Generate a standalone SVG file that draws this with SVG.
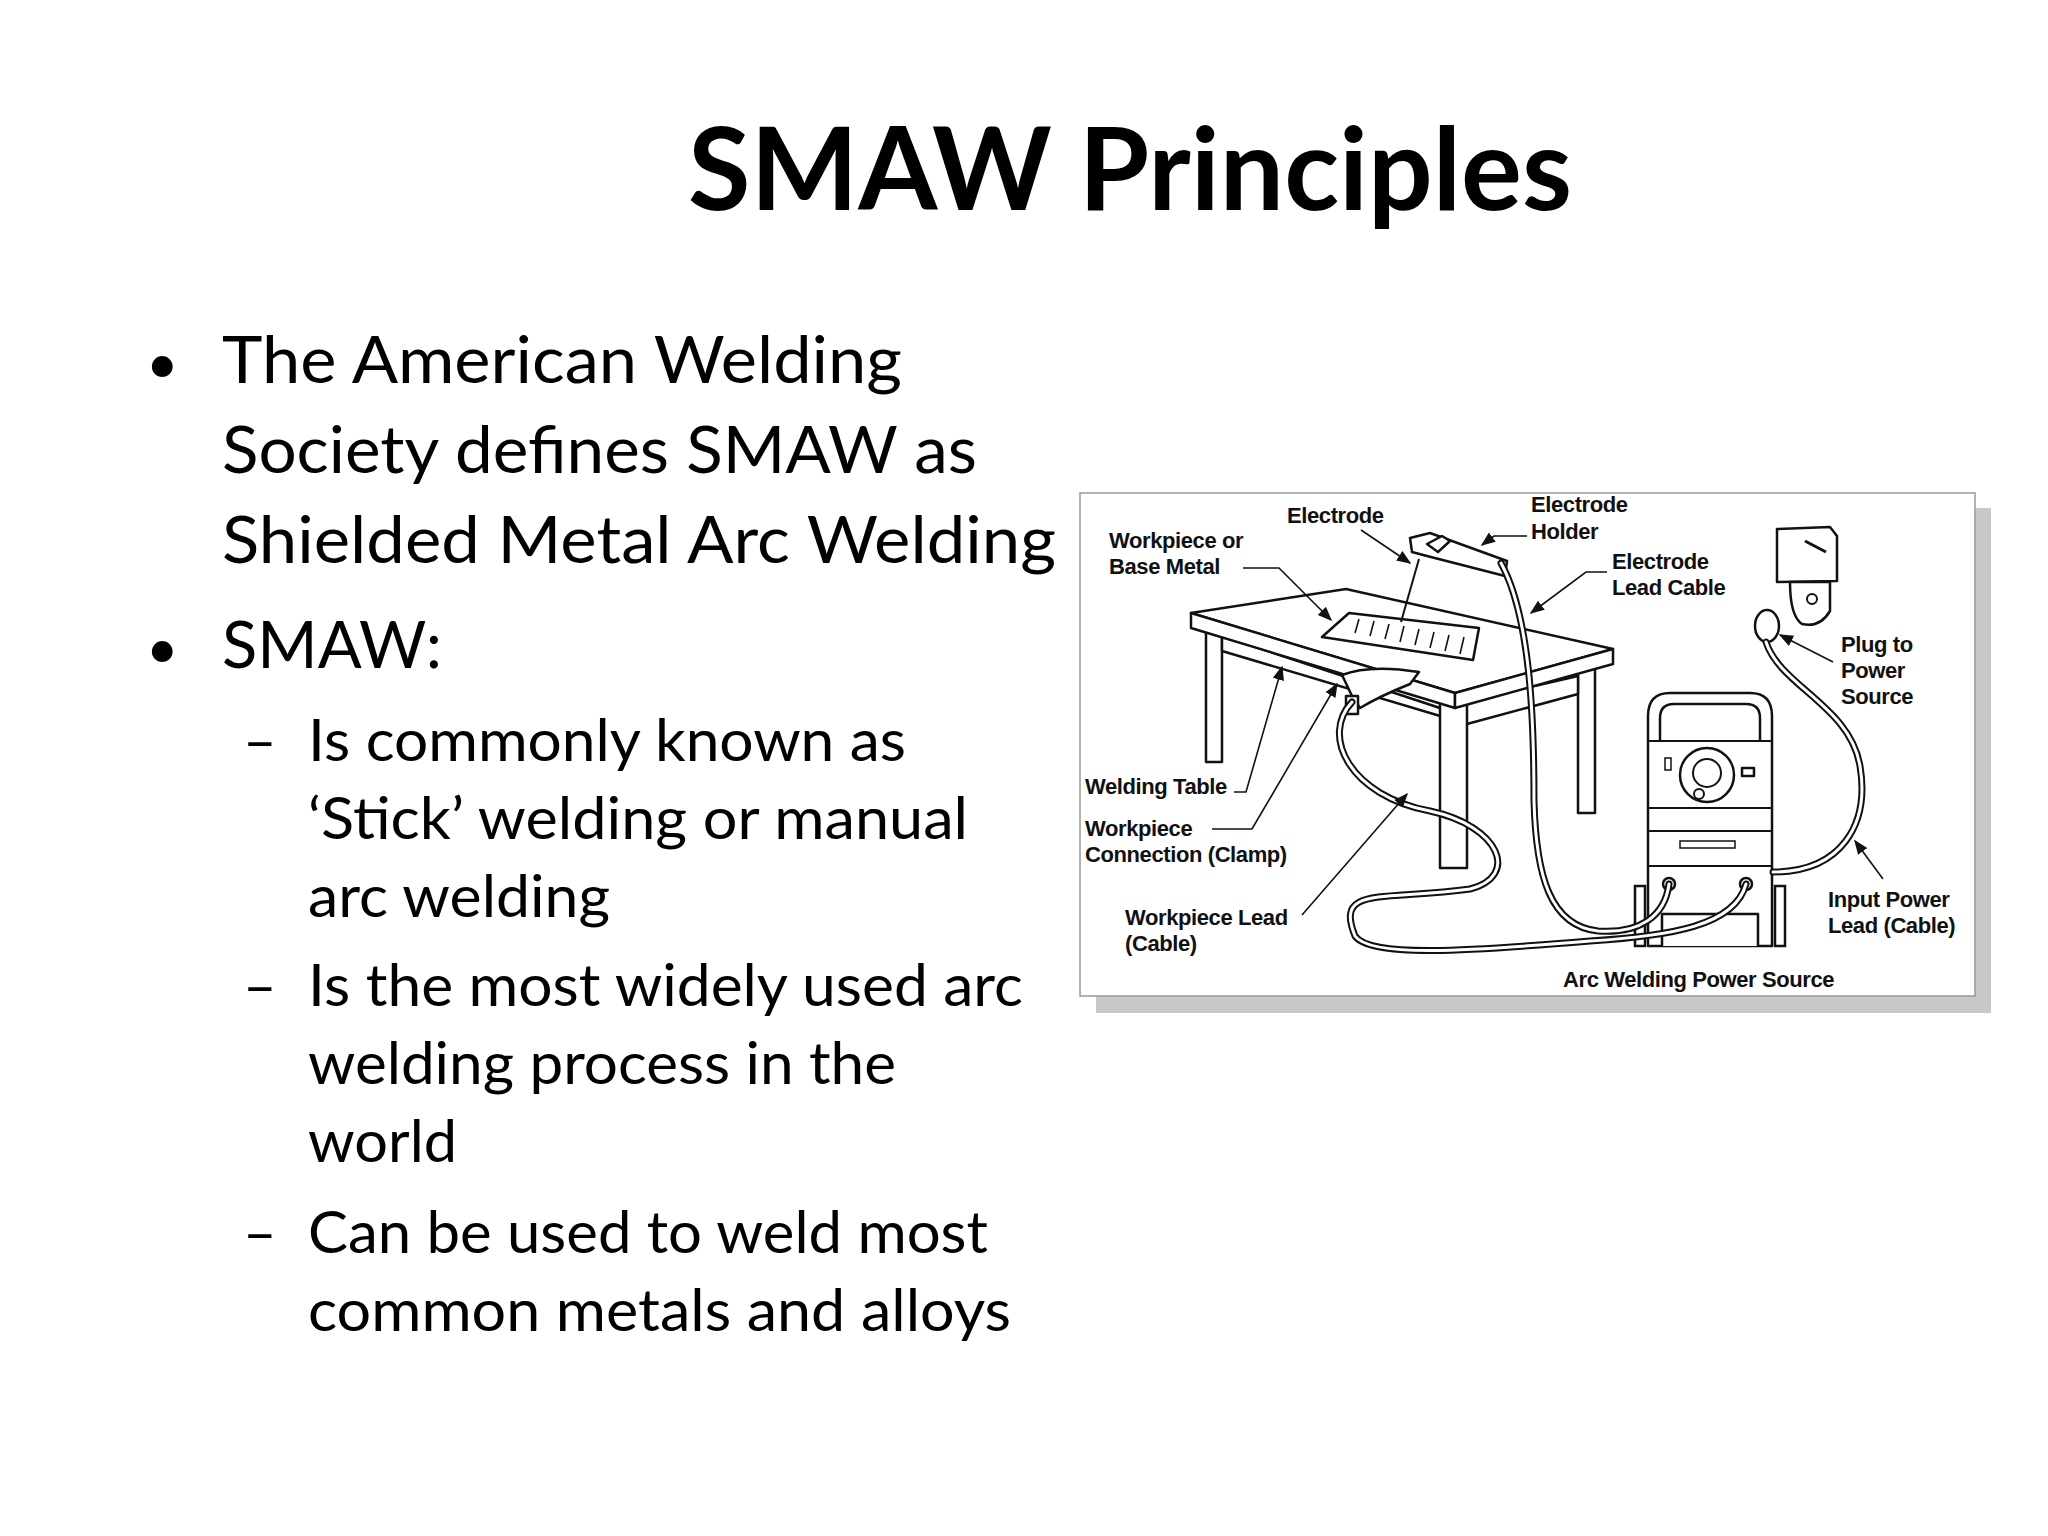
<svg xmlns="http://www.w3.org/2000/svg" width="2048" height="1536" viewBox="0 0 2048 1536">
<defs>
<style>
.t{font-family:Lato,"Open Sans",sans-serif;fill:#000}
.l{font-family:"Liberation Sans",Arial,sans-serif;font-weight:bold;font-size:22px;fill:#111;letter-spacing:-0.4px}
.d{fill:#fff;stroke:#111;stroke-width:2.5;stroke-linejoin:round}
.ld{fill:none;stroke:#111;stroke-width:1.6}
.c1{fill:none;stroke:#111;stroke-width:7;stroke-linecap:round}
.c2{fill:none;stroke:#fff;stroke-width:3;stroke-linecap:round}
</style>
<marker id="a" viewBox="0 0 10 10" refX="9" refY="5" markerWidth="9" markerHeight="9" orient="auto"><path d="M0,1 L10,5 L0,9 z" fill="#111"/></marker>
</defs>
<rect width="2048" height="1536" fill="#fff"/>
<text class="t" x="1130" y="210" font-size="114" font-weight="bold" text-anchor="middle">SMAW Principles</text>
<g id="bullets">
<text class="t" x="146" y="383" font-size="56">•</text>
<text class="t" x="222" y="383" font-size="66" textLength="680" lengthAdjust="spacingAndGlyphs">The American Welding</text>
<text class="t" x="222" y="473" font-size="66" textLength="755" lengthAdjust="spacingAndGlyphs">Society defines SMAW as</text>
<text class="t" x="222" y="563" font-size="66" textLength="834" lengthAdjust="spacingAndGlyphs">Shielded Metal Arc Welding</text>
<text class="t" x="146" y="668" font-size="56">•</text>
<text class="t" x="222" y="668" font-size="66" textLength="220" lengthAdjust="spacingAndGlyphs">SMAW:</text>
<text class="t" x="243" y="761" font-size="58">–</text>
<text class="t" x="308" y="761" font-size="58" textLength="598" lengthAdjust="spacingAndGlyphs">Is commonly known as</text>
<text class="t" x="308" y="839" font-size="58" textLength="660" lengthAdjust="spacingAndGlyphs">‘Stick’ welding or manual</text>
<text class="t" x="308" y="917" font-size="58" textLength="302" lengthAdjust="spacingAndGlyphs">arc welding</text>
<text class="t" x="243" y="1006" font-size="58">–</text>
<text class="t" x="308" y="1006" font-size="58" textLength="715" lengthAdjust="spacingAndGlyphs">Is the most widely used arc</text>
<text class="t" x="308" y="1084" font-size="58" textLength="588" lengthAdjust="spacingAndGlyphs">welding process in the</text>
<text class="t" x="308" y="1162" font-size="58" textLength="149" lengthAdjust="spacingAndGlyphs">world</text>
<text class="t" x="243" y="1253" font-size="58">–</text>
<text class="t" x="308" y="1253" font-size="58" textLength="680" lengthAdjust="spacingAndGlyphs">Can be used to weld most</text>
<text class="t" x="308" y="1331" font-size="58" textLength="703" lengthAdjust="spacingAndGlyphs">common metals and alloys</text>
</g>
<g id="figure" transform="translate(-10,-4)">
<rect x="1106" y="512" width="895" height="505" fill="#c8c8c8"/>
<rect x="1090" y="497" width="895" height="503" fill="#fff" stroke="#999" stroke-width="1.5"/>
<g id="table">
<rect class="d" x="1216" y="630" width="16" height="136"/>
<rect class="d" x="1588" y="672" width="17" height="145"/>
<path class="d" d="M1232,640 L1450,712 L1588,680 L1588,698 L1477,728 L1232,655 z"/>
<rect class="d" x="1450" y="705" width="27" height="167"/>
<path class="d" d="M1201,617 L1356,593 L1623,653 L1465,697 z"/>
<path class="d" d="M1201,617 L1465,697 L1465,712 L1201,632 z"/>
<path class="d" d="M1465,697 L1623,653 L1623,668 L1465,712 z"/>
<path class="d" d="M1332,641 L1359,617 L1489,632 L1483,664 z"/>
<path class="ld" stroke-width="2.5" d="M1365,637 l4,-14 M1380,640 l4,-15 M1395,643 l4,-15 M1410,646 l4,-16 M1425,649 l4,-16 M1440,652 l4,-16 M1455,655 l4,-16 M1470,658 l4,-17"/>
</g>
<g id="holder">
<line x1="1429" y1="563" x2="1411" y2="626" stroke="#111" stroke-width="2"/>
<path class="d" d="M1420,542 L1440,537 L1517,565 L1515,580 L1437,560 L1422,556 z"/>
<path class="d" d="M1437,548 L1452,540 L1460,545 L1448,556 z"/>
</g>
<g id="clamp">
<path class="d" d="M1352,679 Q1380,668 1429,676 L1420,688 Q1390,700 1370,712 L1362,700 z"/>
<rect class="d" x="1356" y="700" width="12" height="18"/>
</g>
<g id="power">
<path class="d" d="M1658,950 L1658,720 Q1658,697 1680,697 L1760,697 Q1782,697 1782,720 L1782,950 z"/>
<path class="d" d="M1670,745 L1670,722 Q1670,708 1684,708 L1756,708 Q1770,708 1770,722 L1770,745"/>
<line x1="1658" y1="745" x2="1782" y2="745" stroke="#111" stroke-width="2"/>
<line x1="1658" y1="812" x2="1782" y2="812" stroke="#111" stroke-width="2"/>
<line x1="1658" y1="835" x2="1782" y2="835" stroke="#111" stroke-width="2"/>
<line x1="1658" y1="870" x2="1782" y2="870" stroke="#111" stroke-width="2"/>
<circle cx="1717" cy="779" r="27" fill="#fff" stroke="#111" stroke-width="2.5"/>
<circle cx="1717" cy="777" r="14" fill="#fff" stroke="#111" stroke-width="2"/>
<circle cx="1709" cy="798" r="5" fill="#fff" stroke="#111" stroke-width="2"/>
<rect x="1675" y="762" width="6" height="12" fill="#fff" stroke="#111" stroke-width="1.5"/>
<path class="d" d="M1752,772 h12 v8 h-12 z"/>
<rect x="1690" y="845" width="55" height="7" fill="#fff" stroke="#111" stroke-width="1.5"/>
<circle cx="1679" cy="888" r="6" fill="#fff" stroke="#111" stroke-width="2.5"/>
<circle cx="1756" cy="888" r="6" fill="#fff" stroke="#111" stroke-width="2.5"/>
<path class="d" d="M1672,950 L1672,918 L1768,918 L1768,950"/>
<rect x="1645" y="890" width="10" height="60" fill="#fff" stroke="#111" stroke-width="2.5"/>
<rect x="1785" y="890" width="10" height="60" fill="#fff" stroke="#111" stroke-width="2.5"/>
</g>
<g id="outlet">
<path class="d" d="M1787,533 L1840,531 L1847,540 L1847,585 L1787,586 z"/>
<path class="d" d="M1800,586 L1840,586 L1840,615 Q1830,632 1812,628 Q1800,620 1800,586 z"/>
<line x1="1815" y1="545" x2="1836" y2="556" stroke="#111" stroke-width="3"/>
<circle cx="1822" cy="603" r="5" fill="#fff" stroke="#111" stroke-width="2"/>
<ellipse cx="1777" cy="630" rx="12" ry="16" fill="#fff" stroke="#111" stroke-width="2.5"/>
</g>
<g id="connectors">
<path class="c1" d="M1511,567 C1540,620 1544,720 1544,805 C1546,880 1560,930 1608,935 C1650,938 1675,920 1679,888"/>
<path class="c2" d="M1511,567 C1540,620 1544,720 1544,805 C1546,880 1560,930 1608,935 C1650,938 1675,920 1679,888"/>
<path class="c1" d="M1362,706 C1330,740 1360,800 1440,815 C1510,830 1530,880 1480,893 C1390,905 1345,890 1365,940 C1380,962 1480,955 1600,945 C1680,940 1745,930 1756,888"/>
<path class="c2" d="M1362,706 C1330,740 1360,800 1440,815 C1510,830 1530,880 1480,893 C1390,905 1345,890 1365,940 C1380,962 1480,955 1600,945 C1680,940 1745,930 1756,888"/>
<path class="c1" d="M1783,876 C1850,876 1880,830 1870,770 C1860,710 1790,690 1776,646"/>
<path class="c2" d="M1783,876 C1850,876 1880,830 1870,770 C1860,710 1790,690 1776,646"/>
<path class="ld" marker-end="url(#a)" d="M1253,572 L1289,572 L1341,624"/>
<path class="ld" marker-end="url(#a)" d="M1371,534 L1420,567"/>
<path class="ld" marker-end="url(#a)" d="M1537,540 L1504,540 L1492,549"/>
<path class="ld" marker-end="url(#a)" d="M1617,576 L1596,576 L1541,617"/>
<path class="ld" marker-end="url(#a)" d="M1843,666 L1790,639"/>
<path class="ld" marker-end="url(#a)" d="M1244,796 L1256,796 L1292,671"/>
<path class="ld" marker-end="url(#a)" d="M1222,833 L1262,833 L1347,688"/>
<path class="ld" marker-end="url(#a)" d="M1312,919 L1417,798"/>
<path class="ld" marker-end="url(#a)" d="M1893,883 L1865,845"/>
</g>
<g id="labels">
<text class="l" x="1297" y="527">Electrode</text>
<text class="l" x="1541" y="516">Electrode</text>
<text class="l" x="1541" y="543">Holder</text>
<text class="l" x="1119" y="552">Workpiece or</text>
<text class="l" x="1119" y="578">Base Metal</text>
<text class="l" x="1622" y="573">Electrode</text>
<text class="l" x="1622" y="599">Lead Cable</text>
<text class="l" x="1851" y="656">Plug to</text>
<text class="l" x="1851" y="682">Power</text>
<text class="l" x="1851" y="708">Source</text>
<text class="l" x="1095" y="798">Welding Table</text>
<text class="l" x="1095" y="840">Workpiece</text>
<text class="l" x="1095" y="866">Connection (Clamp)</text>
<text class="l" x="1135" y="929">Workpiece Lead</text>
<text class="l" x="1135" y="955">(Cable)</text>
<text class="l" x="1838" y="911">Input Power</text>
<text class="l" x="1838" y="937">Lead (Cable)</text>
<text class="l" x="1573" y="991">Arc Welding Power Source</text>
</g>
</g>
</svg>
